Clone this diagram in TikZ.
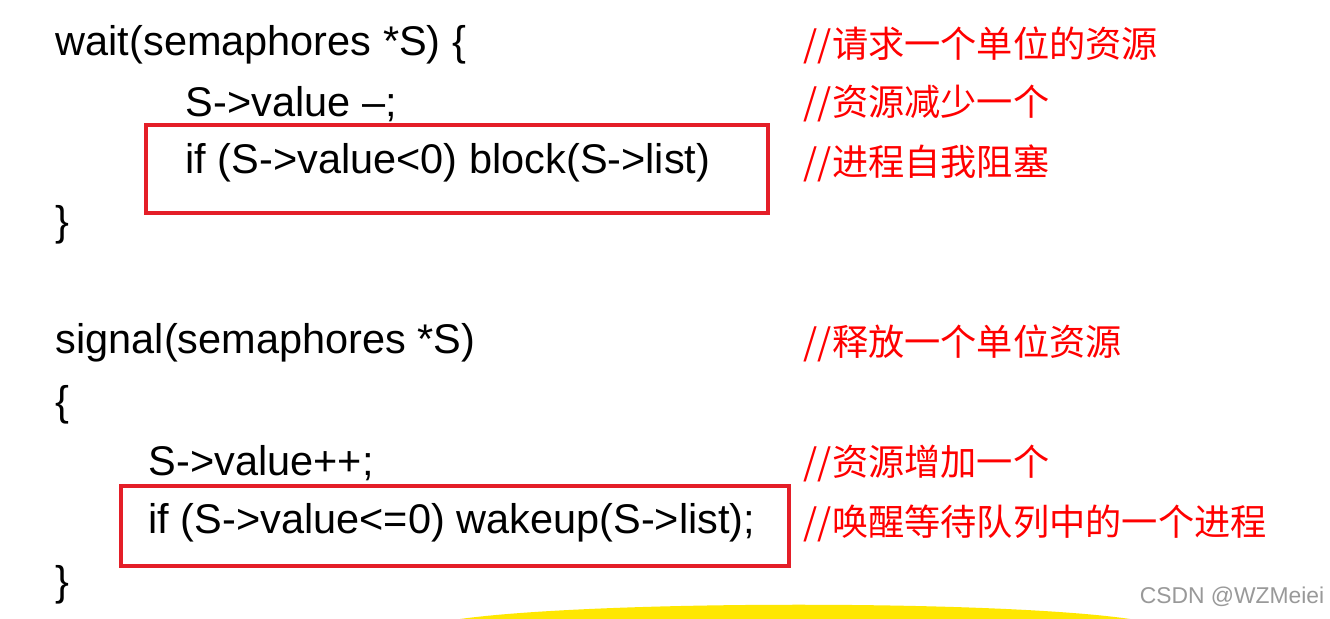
\documentclass[tikz,border=0pt]{standalone}
\usepackage{fontspec}
\setmainfont{Liberation Sans}
\newfontfamily\cjk{Noto Sans CJK SC}
\begin{document}
\begin{tikzpicture}[x=0.01cm,y=-0.01cm,
  code/.style={anchor=west,inner sep=0pt,font=\fontsize{11.8pt}{14pt}\selectfont},
  cmt/.style={anchor=west,inner sep=0pt,text=red,font=\cjk\fontsize{10.3pt}{12pt}\selectfont},
  hbox/.style={draw={rgb,255:red,228;green,30;blue,40},line width=1.1pt}]
\useasboundingbox (0,0) rectangle (1330,619);
\fill[white] (0,0) rectangle (1330,619);
\fill[yellow!90!orange] (460,619) .. controls (600,600) and (1000,600) .. (1130,619) -- cycle;
\node[code] (w1) at (55,45) {wait(semaphores *S) \{};
\node[code] (w2) at (185,104) {S->value --;};
\node[code] (w3) at (185,163) {if (S->value<0) block(S->list)};
\node[code] (w4) at (55,225) {\}};
\node[code] (s1) at (55,343) {signal(semaphores *S)};
\node[code] (s2) at (55,405) {\{};
\node[code] (s3) at (148,463) {S->value++;};
\node[code] (s4) at (148,523) {if (S->value<=0) wakeup(S->list);};
\node[code] (s5) at (55,585) {\}};
\draw[hbox] (146,125) rectangle (768,213);
\draw[hbox] (121,486) rectangle (789,566);
\node[cmt] (c1) at (803,45) {//请求一个单位的资源};
\node[cmt] (c2) at (803,104) {//资源减少一个};
\node[cmt] (c3) at (803,163) {//进程自我阻塞};
\node[cmt] (c4) at (803,343) {//释放一个单位资源};
\node[cmt] (c5) at (803,463) {//资源增加一个};
\node[cmt] (c6) at (803,523) {//唤醒等待队列中的一个进程};
\node[anchor=east,inner sep=0pt,text=black!40,font=\fontsize{6.5pt}{8pt}\selectfont] (wm) at (1325,597) {CSDN @WZMeiei};
\end{tikzpicture}
\end{document}
